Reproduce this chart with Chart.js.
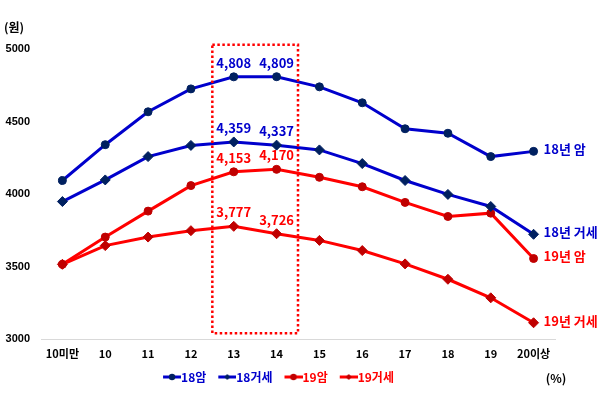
<!DOCTYPE html>
<html>
<head>
<meta charset="utf-8">
<script src="https://cdn.jsdelivr.net/npm/chart.js@4.4.1/dist/chart.umd.min.js"></script>
<style>
html, body { margin: 0; padding: 0; background: #fff; }
#wrap { width: 600px; height: 397px; }
</style>
</head>
<body>
<div id="wrap"><canvas id="priceChart"></canvas></div>
<script>
// 등급별(%) 가격
const categories = ['10미만', '10', '11', '12', '13', '14', '15', '16', '17', '18', '19', '20이상'];
const cow18   = [4093, 4340, 4567, 4725, 4808, 4809, 4739, 4629, 4450, 4419, 4258, 4294];
const steer18 = [3948, 4097, 4258, 4335, 4359, 4337, 4304, 4210, 4093, 3997, 3914, 3722];
const cow19   = [3515, 3703, 3882, 4058, 4153, 4170, 4115, 4050, 3942, 3845, 3868, 3555];
const steer19 = [3515, 3644, 3703, 3747, 3777, 3726, 3680, 3610, 3518, 3412, 3284, 3112];
const legendNames = ['18암', '18거세', '19암', '19거세'];
const endNames = ['18년 암', '18년 거세', '19년 암', '19년 거세'];
const labeledIdx = [4, 5];          // 13, 14 구간 값 표시
const boxRange = [5030, 3040];      // 점선 박스 위/아래 값

const BLUE = '#0000CC', NAVY = '#002060', RED = '#FF0000', DARKRED = '#C00000';
const FONT = "'Liberation Sans', 'Noto Sans CJK KR', sans-serif";
const KFONT = "'Noto Sans CJK KR', 'Liberation Sans', sans-serif";

// legend icon: line + marker, shifted right so the text sits close to it
function legendIcon(lineColor, markColor, shape) {
    const c = document.createElement('canvas');
    c.width = 26; c.height = 10;
    const g = c.getContext('2d');
    g.strokeStyle = lineColor;
    g.lineWidth = 3;
    g.beginPath(); g.moveTo(8, 5); g.lineTo(26, 5); g.stroke();
    g.fillStyle = markColor;
    g.beginPath();
    if (shape === 'circle') {
        g.arc(17, 5, 3.2, 0, Math.PI * 2);
    } else {
        g.moveTo(17, 2); g.lineTo(20, 5); g.lineTo(17, 8); g.lineTo(14, 5); g.closePath();
    }
    g.fill();
    return c;
}

function series(label, data, lineColor, markColor, shape) {
    return {
        label: label,
        data: data,
        borderColor: lineColor,
        backgroundColor: markColor,
        pointBackgroundColor: markColor,
        pointBorderColor: markColor,
        pointStyle: shape,
        pointRadius: shape === 'circle' ? 4 : 5,
        pointBorderWidth: 1,
        pointHoverRadius: 4,
        borderWidth: 3,
        tension: 0,
        icon: legendIcon(lineColor, markColor, shape === 'circle' ? 'circle' : 'diamond'),
        textColor: lineColor
    };
}

const extras = {
    id: 'extras',
    afterDatasetsDraw(chart) {
        const ctx = chart.ctx;
        const x = chart.scales.x, y = chart.scales.y;
        ctx.save();

        // dotted highlight box around 13 ~ 14
        const left = (x.getPixelForValue(3) + x.getPixelForValue(4)) / 2;
        const right = (x.getPixelForValue(5) + x.getPixelForValue(6)) / 2;
        const top = y.getPixelForValue(boxRange[0]);
        const bottom = y.getPixelForValue(boxRange[1]);
        ctx.strokeStyle = RED;
        ctx.lineWidth = 2.5;
        ctx.setLineDash([2.5, 2.5]);
        ctx.strokeRect(left, top, right - left, bottom - top);
        ctx.setLineDash([]);

        // value labels + series names at the end
        chart.data.datasets.forEach((ds, i) => {
            const pts = chart.getDatasetMeta(i).data;
            ctx.fillStyle = ds.textColor;
            ctx.font = 'bold 13px ' + KFONT;
            ctx.textAlign = 'center';
            ctx.textBaseline = 'middle';
            labeledIdx.forEach(j => {
                ctx.fillText(ds.data[j].toLocaleString('en-US'), pts[j].x, pts[j].y - 14);
            });
            const last = pts[pts.length - 1];
            ctx.textAlign = 'left';
            ctx.fillText(endNames[i], last.x + 10, last.y - 2);
        });

        // units
        ctx.fillStyle = '#000';
        ctx.font = 'bold 12px ' + KFONT;
        ctx.textAlign = 'left';
        ctx.fillText('(원)', 4, 27);
        ctx.textAlign = 'center';
        ctx.fillText('(%)', 556, 378);
        ctx.restore();
    }
};

new Chart(document.getElementById('priceChart'), {
    type: 'line',
    data: {
        labels: categories,
        datasets: [
            series(legendNames[0], cow18, BLUE, NAVY, 'circle'),
            series(legendNames[1], steer18, BLUE, NAVY, 'rectRot'),
            series(legendNames[2], cow19, RED, DARKRED, 'circle'),
            series(legendNames[3], steer19, RED, DARKRED, 'rectRot')
        ]
    },
    options: {
        responsive: true,
        maintainAspectRatio: false,
        animation: false,
        layout: { padding: { top: 49, right: 45, left: 0, bottom: 4 } },
        plugins: {
            tooltip: { enabled: false },
            legend: {
                position: 'bottom',
                labels: {
                    usePointStyle: true,
                    pointStyleWidth: 14,
                    boxHeight: 10,
                    padding: 10,
                    font: { family: KFONT, size: 12, weight: 'bold' },
                    generateLabels(chart) {
                        return chart.data.datasets.map((ds, i) => ({
                            text: ds.label,
                            fontColor: ds.textColor,
                            pointStyle: ds.icon,
                            fillStyle: ds.borderColor,
                            strokeStyle: ds.borderColor,
                            lineWidth: 0,
                            hidden: false,
                            datasetIndex: i
                        }));
                    }
                }
            }
        },
        scales: {
            x: {
                offset: true,
                grid: { display: false, drawTicks: false },
                border: { display: true, color: '#D9D9D9', width: 1 },
                afterFit(s) { s.height = 22; },
                ticks: {
                    color: '#000',
                    padding: 8,
                    maxRotation: 0,
                    autoSkip: false,
                    font: { family: KFONT, size: 11, weight: 'bold' }
                }
            },
            y: {
                min: 3000,
                max: 5000,
                grid: { display: false, drawTicks: false },
                border: { display: false },
                afterFit(s) { s.width = 41; },
                ticks: {
                    stepSize: 500,
                    color: '#000',
                    padding: 11,
                    callback: v => String(v),
                    font: { family: FONT, size: 11, weight: 'bold' }
                }
            }
        }
    },
    plugins: [extras]
});
</script>
</body>
</html>
